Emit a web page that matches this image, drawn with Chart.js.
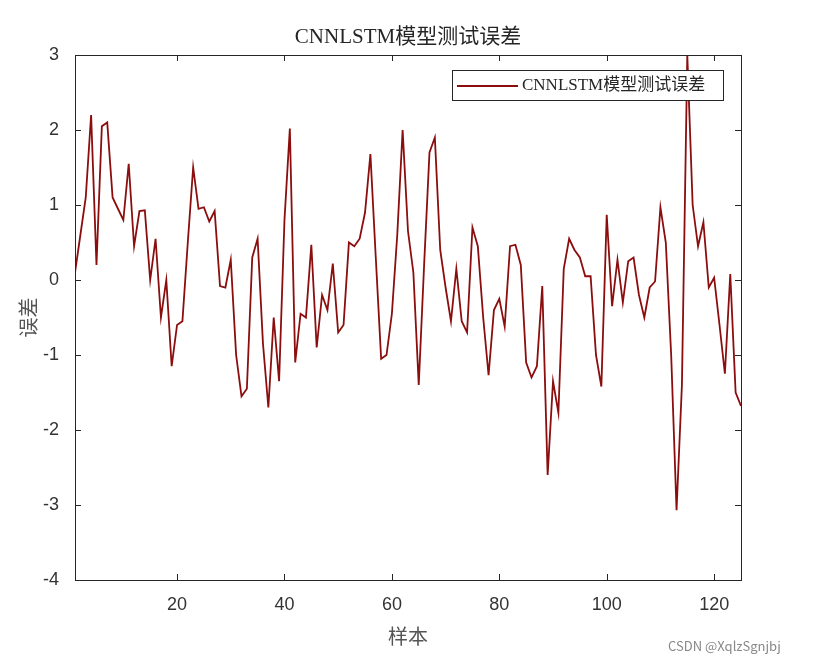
<!DOCTYPE html>
<html><head><meta charset="utf-8">
<script src="https://cdn.jsdelivr.net/npm/chart.js@4/dist/chart.umd.min.js"></script>
<style>html,body{margin:0;background:#fff}canvas{display:block}</style>
</head><body>
<canvas id="c" width="836" height="664"></canvas>
<script>
// test error per sample
var errValues = [0.1,0.6,1.1,2.2,0.2,2.05,2.1,1.1,0.95,0.8,1.55,0.45,0.92,0.93,0.0,0.55,-0.5,0.0,-1.15,-0.6,
  -0.55,0.5,1.5,0.95,0.97,0.78,0.92,-0.08,-0.1,0.27,-1.0,-1.55,-1.45,0.3,0.55,-0.85,-1.7,-0.5,-1.35,0.8,
  2.02,-1.1,-0.45,-0.5,0.47,-0.9,-0.2,-0.4,0.22,-0.7,-0.6,0.5,0.45,0.55,0.9,1.68,0.3,-1.05,-1.0,-0.45,
  0.6,2.0,0.65,0.1,-1.4,0.2,1.7,1.9,0.4,-0.1,-0.55,0.15,-0.55,-0.7,0.7,0.45,-0.5,-1.27,-0.4,-0.25,
  -0.62,0.45,0.47,0.2,-1.1,-1.3,-1.15,-0.08,-2.6,-1.35,-1.77,0.15,0.55,0.4,0.3,0.05,0.05,-1.0,-1.42,0.87,
  -0.35,0.27,-0.3,0.25,0.3,-0.2,-0.5,-0.1,-0.02,0.97,0.5,-1.0,-3.07,-1.4,3.0,1.0,0.45,0.77,-0.1,0.03,
  -0.6,-1.25,0.08,-1.5,-1.68];
var xTicks = [20,40,60,80,100,120];
var yTicks = [-4,-3,-2,-1,0,1,2,3];
var seriesName = 'CNNLSTM模型测试误差';
var titleText = 'CNNLSTM模型测试误差';

var pts = errValues.map(function(v,i){ return {x:i+1, y:v}; });
var serif = '"Liberation Serif","Noto Sans CJK SC",serif';

var frame = {
  id:'frame',
  afterDraw:function(ch){
    var c=ch.ctx, a=ch.chartArea, xs=ch.scales.x, ys=ch.scales.y;
    c.save();
    c.strokeStyle='#262626'; c.lineWidth=1;
    c.strokeRect(a.left+0.5,a.top+0.5,a.right-a.left,a.bottom-a.top);
    c.beginPath();
    xTicks.forEach(function(t){ var p=Math.round(xs.getPixelForValue(t))+0.5;
      c.moveTo(p,a.bottom); c.lineTo(p,a.bottom-6); c.moveTo(p,a.top); c.lineTo(p,a.top+6); });
    yTicks.forEach(function(t){ var p=Math.round(ys.getPixelForValue(t))+0.5;
      c.moveTo(a.left,p); c.lineTo(a.left+6,p); c.moveTo(a.right,p); c.lineTo(a.right-6,p); });
    c.stroke();
    // title
    c.fillStyle='#262626'; c.font='21px '+serif; c.textAlign='center'; c.textBaseline='middle';
    c.fillText(titleText,(a.left+a.right)/2,37);
    // legend
    c.fillStyle='#fff'; c.fillRect(452,70,271,30);
    c.strokeStyle='#262626'; c.strokeRect(452.5,70.5,271,30);
    c.strokeStyle='#8b0d0d'; c.lineWidth=2; c.beginPath(); c.moveTo(457,86); c.lineTo(518,86); c.stroke();
    c.fillStyle='#262626'; c.font='17px '+serif; c.textAlign='left';
    c.fillText(seriesName,522,86);
    // watermark
    c.fillStyle='#888'; c.font='13px "Noto Sans CJK SC",sans-serif'; c.textAlign='left';
    c.fillText('CSDN @XqlzSgnjbj',668,646);
    c.restore();
  }
};

new Chart(document.getElementById('c'),{
  type:'line',
  data:{ datasets:[{ label:seriesName, data:pts, borderColor:'#8b0d0d', borderWidth:1.8, pointRadius:0, tension:0 }] },
  options:{
    responsive:false, animation:false,
    layout:{ padding:{ left:0, right:95, top:55, bottom:0 } },
    plugins:{ legend:{display:false}, title:{display:false}, tooltip:{enabled:false} },
    scales:{
      x:{ type:'linear', min:1, max:125,
        afterBuildTicks:function(s){ s.ticks = xTicks.map(function(v){return {value:v};}); },
        afterFit:function(s){ s.height = 84; },
        grid:{ display:false }, border:{ display:false },
        ticks:{ color:'#333', font:{ family:'"Liberation Sans",Arial', size:18 }, padding:6, maxRotation:0 },
        title:{ display:true, text:'样本', color:'#555', font:{ family:'"Noto Sans CJK SC"', size:20 }, padding:{top:4, bottom:16} }
      },
      y:{ min:-4, max:3,
        afterBuildTicks:function(s){ s.ticks = yTicks.map(function(v){return {value:v};}); },
        afterFit:function(s){ s.width = 75; },
        grid:{ display:false }, border:{ display:false },
        ticks:{ color:'#333', font:{ family:'"Liberation Sans",Arial', size:18 }, padding:8 },
        title:{ display:true, text:'误差', color:'#555', font:{ family:'"Noto Sans CJK SC"', size:20 }, padding:{top:16, bottom:4} }
      }
    }
  },
  plugins:[frame]
});
</script>
</body></html>
